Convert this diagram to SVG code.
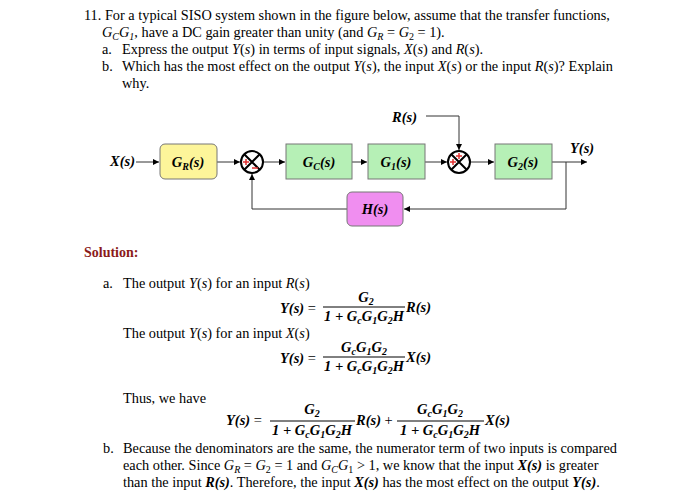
<svg xmlns="http://www.w3.org/2000/svg" width="700" height="501" viewBox="0 0 700 501">
<style>
.t{font-family:"Liberation Serif",serif;font-size:14.3px;fill:#000}
.m{font-family:"Liberation Serif",serif;font-size:14.5px;font-weight:bold;font-style:italic;fill:#000}
.b{font-family:"Liberation Serif",serif;font-size:14.5px;font-weight:bold;font-style:italic;text-anchor:middle}
.ln{stroke:#333;stroke-width:1;fill:none}
.fr{stroke:#000;stroke-width:1}
.sm{stroke:#000;stroke-width:2;fill:#fff}
.bx{stroke:#777;stroke-width:1}
</style>
<defs><marker id="a" markerWidth="6" markerHeight="6" refX="6" refY="3" orient="auto"><path d="M0,0 L6,3 L0,6z" fill="#000"/></marker></defs>
<rect width="700" height="501" fill="#fff"/>
<text class="t" x="84" y="20">11.  For a typical SISO system shown in the figure below, assume that the transfer functions,</text>
<text class="t" x="102" y="37"><tspan font-style="italic">G<tspan font-size="10" dy="3">C</tspan><tspan dy="-3">G</tspan><tspan font-size="10" dy="3">1</tspan></tspan><tspan dy="-3">, have a DC gain greater than unity (and </tspan><tspan font-style="italic">G<tspan font-size="10" dy="3">R</tspan></tspan><tspan dy="-3"> = </tspan><tspan font-style="italic">G</tspan><tspan font-size="10" dy="3">2</tspan><tspan dy="-3"> = 1).</tspan></text>
<text class="t" x="102" y="54">a.</text>
<text class="t" x="122" y="54">Express the output <tspan font-style="italic">Y</tspan>(<tspan font-style="italic">s</tspan>) in terms of input signals, <tspan font-style="italic">X</tspan>(<tspan font-style="italic">s</tspan>) and <tspan font-style="italic">R</tspan>(<tspan font-style="italic">s</tspan>).</text>
<text class="t" x="102" y="71">b.</text>
<text class="t" x="122" y="71">Which has the most effect on the output <tspan font-style="italic">Y</tspan>(<tspan font-style="italic">s</tspan>), the input <tspan font-style="italic">X</tspan>(<tspan font-style="italic">s</tspan>) or the input <tspan font-style="italic">R</tspan>(<tspan font-style="italic">s</tspan>)? Explain</text>
<text class="t" x="122" y="88">why.</text>

<g id="connectors">
<path class="ln" d="M136,162 H159" marker-end="url(#a)"/>
<path class="ln" d="M217,162 H240" marker-end="url(#a)"/>
<path class="ln" d="M263,162 H285" marker-end="url(#a)"/>
<path class="ln" d="M352,162 H367" marker-end="url(#a)"/>
<path class="ln" d="M425,162 H447" marker-end="url(#a)"/>
<path class="ln" d="M470,162 H494" marker-end="url(#a)"/>
<path class="ln" d="M552,162 H587" marker-end="url(#a)"/>
<path class="ln" d="M426,116 H459 V150" marker-end="url(#a)"/>
<path class="ln" d="M566,162 V209 H404" marker-end="url(#a)"/>
<path class="ln" d="M347,209 H252 V174" marker-end="url(#a)"/>
</g>
<g id="X"><text class="m" x="110" y="166" font-size="12">X(s)</text></g>
<g id="GR"><rect class="bx" x="160" y="144" width="57" height="35" rx="5" fill="#fdf59a"/><text class="b" x="188" y="167">G<tspan font-size="10" dy="3">R</tspan><tspan dy="-3">(s)</tspan></text></g>
<g id="sum1"><circle class="sm" cx="252" cy="162" r="11"/><path d="M244,154 L260,170 M260,154 L244,170" stroke="#000" stroke-width="2"/><path d="M243,162 h6 M246,159 v6 M252,168 h6" stroke="#e03030" stroke-width="1.5"/></g>
<g id="GC"><rect class="bx" x="286" y="144" width="66" height="35" fill="#b6f0b6"/><text class="b" x="319" y="167">G<tspan font-size="10" dy="3">C</tspan><tspan dy="-3">(s)</tspan></text></g>
<g id="G1"><rect class="bx" x="368" y="144" width="57" height="35" fill="#b6f0b6"/><text class="b" x="396" y="167">G<tspan font-size="10" dy="3">1</tspan><tspan dy="-3">(s)</tspan></text></g>
<g id="sum2"><circle class="sm" cx="459" cy="162" r="11"/><path d="M451,154 L467,170 M467,154 L451,170" stroke="#000" stroke-width="2"/><path d="M450,162 h6 M453,159 v6 M456,156 h6 M459,153 v6" stroke="#e03030" stroke-width="1.5"/></g>
<g id="G2"><rect class="bx" x="495" y="144" width="57" height="35" fill="#b6f0b6"/><text class="b" x="523" y="167">G<tspan font-size="10" dy="3">2</tspan><tspan dy="-3">(s)</tspan></text></g>
<g id="H"><rect class="bx" x="347" y="192" width="56" height="34" rx="5" fill="#f08ef0"/><text class="b" x="375" y="214">H(s)</text></g>
<g id="R"><text class="m" x="392" y="122">R(s)</text></g>
<g id="Y"><text class="m" x="570" y="153" font-size="12">Y(s)</text></g>

<text x="84" y="257" font-family="Liberation Serif,serif" font-size="14" font-weight="bold" fill="#8b1a1a">Solution:</text>
<text class="t" x="103" y="288">a.</text>
<text class="t" x="123" y="288">The output <tspan font-style="italic">Y</tspan>(<tspan font-style="italic">s</tspan>) for an input <tspan font-style="italic">R</tspan>(<tspan font-style="italic">s</tspan>)</text>
<text class="m" x="280" y="313">Y(s) <tspan font-style="normal" font-weight="normal">=</tspan></text>
<text class="b" x="366" y="302">G<tspan font-size="10" dy="3">2</tspan></text>
<line class="fr" x1="323" y1="307" x2="405" y2="307"/>
<text class="b" x="364" y="321">1 + G<tspan font-size="10" dy="3">c</tspan><tspan dy="-3">G</tspan><tspan font-size="10" dy="3">1</tspan><tspan dy="-3">G</tspan><tspan font-size="10" dy="3">2</tspan><tspan dy="-3">H</tspan></text>
<text class="m" x="406" y="312">R(s)</text>
<text class="t" x="123" y="338">The output <tspan font-style="italic">Y</tspan>(<tspan font-style="italic">s</tspan>) for an input <tspan font-style="italic">X</tspan>(<tspan font-style="italic">s</tspan>)</text>
<text class="m" x="280" y="363">Y(s) <tspan font-style="normal" font-weight="normal">=</tspan></text>
<text class="b" x="364" y="352">G<tspan font-size="10" dy="3">c</tspan><tspan dy="-3">G</tspan><tspan font-size="10" dy="3">1</tspan><tspan dy="-3">G</tspan><tspan font-size="10" dy="3">2</tspan></text>
<line class="fr" x1="323" y1="357" x2="405" y2="357"/>
<text class="b" x="364" y="371">1 + G<tspan font-size="10" dy="3">c</tspan><tspan dy="-3">G</tspan><tspan font-size="10" dy="3">1</tspan><tspan dy="-3">G</tspan><tspan font-size="10" dy="3">2</tspan><tspan dy="-3">H</tspan></text>
<text class="m" x="406" y="362">X(s)</text>
<text class="t" x="123" y="403">Thus, we have</text>
<text class="m" x="226" y="425">Y(s) <tspan font-style="normal" font-weight="normal">=</tspan></text>
<text class="b" x="312" y="414">G<tspan font-size="10" dy="3">2</tspan></text>
<line class="fr" x1="270" y1="421" x2="355" y2="421"/>
<text class="b" x="312" y="435">1 + G<tspan font-size="10" dy="3">c</tspan><tspan dy="-3">G</tspan><tspan font-size="10" dy="3">1</tspan><tspan dy="-3">G</tspan><tspan font-size="10" dy="3">2</tspan><tspan dy="-3">H</tspan></text>
<text class="m" x="356" y="425">R(s) <tspan font-style="normal" font-weight="normal">+</tspan></text>
<text class="b" x="440" y="414">G<tspan font-size="10" dy="3">c</tspan><tspan dy="-3">G</tspan><tspan font-size="10" dy="3">1</tspan><tspan dy="-3">G</tspan><tspan font-size="10" dy="3">2</tspan></text>
<line class="fr" x1="397" y1="421" x2="484" y2="421"/>
<text class="b" x="440" y="435">1 + G<tspan font-size="10" dy="3">c</tspan><tspan dy="-3">G</tspan><tspan font-size="10" dy="3">1</tspan><tspan dy="-3">G</tspan><tspan font-size="10" dy="3">2</tspan><tspan dy="-3">H</tspan></text>
<text class="m" x="485" y="425">X(s)</text>
<text class="t" x="103" y="453">b.</text>
<text class="t" x="123" y="453">Because the denominators are the same, the numerator term of two inputs is compared</text>
<text class="t" x="123" y="470">each other. Since <tspan font-style="italic">G</tspan><tspan font-size="10" dy="3" font-style="italic">R</tspan><tspan dy="-3"> = </tspan><tspan font-style="italic">G</tspan><tspan font-size="10" dy="3">2</tspan><tspan dy="-3"> = 1 and </tspan><tspan font-style="italic">G</tspan><tspan font-size="10" dy="3" font-style="italic">C</tspan><tspan dy="-3" font-style="italic">G</tspan><tspan font-size="10" dy="3">1</tspan><tspan dy="-3"> &gt; 1, we know that the input </tspan><tspan font-weight="bold" font-style="italic">X(s)</tspan> is greater</text>
<text class="t" x="123" y="487">than the input <tspan font-weight="bold" font-style="italic">R(s)</tspan>. Therefore, the input <tspan font-weight="bold" font-style="italic">X(s)</tspan> has the most effect on the output <tspan font-weight="bold" font-style="italic">Y(s)</tspan>.</text>
</svg>
